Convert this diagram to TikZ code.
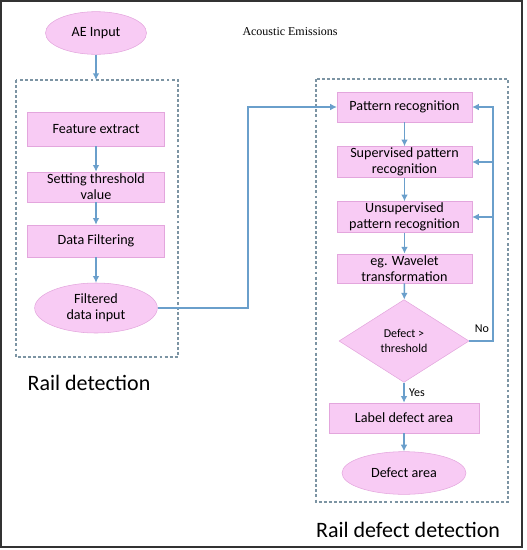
\documentclass[tikz,border=0pt]{standalone}
\usepackage{fontspec}
\setmainfont{Carlito}
\newfontfamily\acserif{Liberation Serif}
\usetikzlibrary{shapes.geometric,arrows.meta}
\definecolor{pinkfill}{HTML}{F8CBF4}
\definecolor{pinkline}{HTML}{E3A6DD}
\definecolor{flowblue}{HTML}{6A9FCB}
\definecolor{dashgray}{HTML}{7C94A3}

\begin{document}
\begin{tikzpicture}[x=0.75pt, y=-0.75pt, >={Latex[length=5pt,width=5pt]},
    box/.style={draw=pinkline, fill=pinkfill, rectangle, align=center, inner sep=1pt,
      minimum width=103pt, font=\fontsize{10.6}{12}\selectfont},
    oval/.style={draw=pinkline, fill=pinkfill, ellipse, align=center, inner sep=0pt,
      font=\fontsize{10.6}{12}\selectfont},
    flow/.style={draw=flowblue, line width=1.1pt},
    group/.style={draw=dashgray, dash pattern=on 2.2pt off 1.6pt, line width=0.8pt},
    title/.style={font=\fontsize{16.5}{19}\selectfont}]
  \useasboundingbox (0,0) rectangle (527,550);
  \draw[line width=1.5pt, black!80] (1,1) rectangle (522,547);

  % groups
  \draw[group] (16,80) rectangle (178,357);
  \draw[group] (316,79) rectangle (508,502);
  \coordinate (ltop) at (96,80);

  % left column
  \node[oval, minimum width=75.75pt, minimum height=32pt] (ae) at (96,33) {AE Input};
  \node (ac) at (290,32) {\acserif\fontsize{9}{11}\selectfont Acoustic Emissions};
  \node[box, minimum height=25.5pt] (feat) at (96,129) {Feature extract};
  \node[box, minimum height=22.5pt] (thresh) at (96,187) {Setting threshold\\value};
  \node[box, minimum height=24pt] (filt) at (96,241) {Data Filtering};
  \node[oval, minimum width=92pt, minimum height=37.5pt] (fdata) at (96,308) {Filtered\\data input};
  \node[title] (rd) at (89,383) {Rail detection};

  % right column
  \node[box, minimum width=101pt, minimum height=22.5pt] (pat) at (404.5,107) {Pattern recognition};
  \node[box, minimum width=101pt, minimum height=22.5pt] (sup) at (404.5,162) {Supervised pattern\\recognition};
  \node[box, minimum width=101pt, minimum height=22.5pt] (unsup) at (404.5,217) {Unsupervised\\pattern recognition};
  \node[box, minimum width=101pt, minimum height=22pt] (wave) at (404.5,268.5) {eg. Wavelet\\transformation};
  \node[diamond, draw=pinkline, fill=pinkfill, align=center, inner sep=0pt,
    minimum width=97.5pt, minimum height=62pt, font=\fontsize{9}{11}\selectfont] (dec) at (404,341) {Defect >\\threshold};
  \node[box, minimum width=112.5pt, minimum height=22.5pt] (lab) at (404,418) {Label defect area};
  \node[oval, minimum width=93pt, minimum height=32pt] (darea) at (404,473) {Defect area};
  \node[title] (rdd) at (408,530) {Rail defect detection};

  % connectors
  \draw[flow,->] (ae) -- (ltop);
  \draw[flow,->] (feat) -- (thresh);
  \draw[flow,->] (thresh) -- (filt);
  \draw[flow,->] (filt) -- (fdata);
  \coordinate (jog) at (248,200);
  \draw[flow,->] (fdata.east) -| (jog) |- (pat.west);
  \draw[flow,->] (pat) -- (sup);
  \draw[flow,->] (sup) -- (unsup);
  \draw[flow,->] (unsup) -- (wave);
  \draw[flow,->] (wave) -- (dec);
  \coordinate (back) at (493,200);
  \draw[flow,->] (dec.east) -| (back) |- (pat.east);
  \draw[flow,->] (back |- sup.east) -- (sup.east);
  \draw[flow,->] (back |- unsup.east) -- (unsup.east);
  \node[font=\fontsize{9}{11}\selectfont] (no) at (482,329) {No};
  \draw[flow,->] (dec) -- node[right, font=\fontsize{9}{11}\selectfont] (yes) {Yes} (lab);
  \draw[flow,->] (lab) -- (darea);
\end{tikzpicture}
\end{document}
